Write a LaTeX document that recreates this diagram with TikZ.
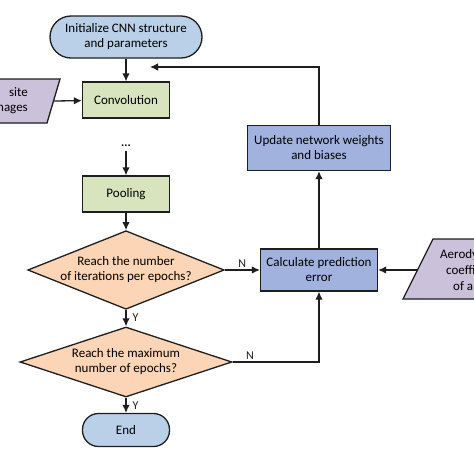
\documentclass[tikz,border=0pt]{standalone}
\usepackage{fontspec}
\setmainfont{Carlito}
\usepackage{tikz}
\usetikzlibrary{arrows.meta,shapes.geometric,calc}
\definecolor{term_blue}{HTML}{B9D0E8}
\definecolor{op_green}{HTML}{D7E4BD}
\definecolor{dec_peach}{HTML}{FBD5B5}
\definecolor{net_blue}{HTML}{A2B2DE}
\definecolor{io_lilac}{HTML}{CCC1DA}
\definecolor{edge_dark}{HTML}{1E1E1E}

\tikzset{
    box/.style={draw=edge_dark,line width=1.3pt,align=center,inner sep=2pt,
        font=\fontsize{13}{15}\selectfont},
    terminal/.style={box,fill=term_blue,rounded corners=#1},
    opbox/.style={box,fill=op_green,minimum width=87pt,minimum height=36pt},
    netbox/.style={box,fill=net_blue},
    decision/.style={box,diamond,fill=dec_peach,aspect=2.5,inner sep=0pt},
    arr/.style={line width=1.3pt,edge_dark,-{Latex[length=8pt,width=7.5pt]}},
    lbl/.style={font=\fontsize{12}{14}\selectfont,inner sep=2pt}
}

\begin{document}
\begin{tikzpicture}[x=1pt,y=-1pt]

    \clip (0,0) rectangle (474,474);
    \fill[white] (0,0) rectangle (474,474);

    % inputs on both sides
    \draw[line width=1.3pt,edge_dark,fill=io_lilac]
        (-20,79) -- (60,79) -- (47,123) -- (-30,123) -- cycle;
    \node[lbl,font=\fontsize{13}{15}\selectfont,anchor=east,align=right]
        (imgtxt) at (30,101) {site\\mages};
    \coordinate (imgs) at (54,101);

    \draw[line width=1.3pt,edge_dark,fill=io_lilac]
        (433,239) -- (490,239) -- (490,299) -- (403,299) -- cycle;
    \node[lbl,font=\fontsize{13}{16}\selectfont,anchor=west,align=left]
        (aerotxt) at (438,270)
        {Aerody\\\hspace*{6pt}coeffi\\\hspace*{13pt}of a};
    \coordinate (aero) at (418,270);

    % main column
    \node[terminal=21pt,minimum width=152pt,minimum height=42pt]
        (init) at (126,37) {Initialize CNN structure\\and parameters};
    \node[opbox] (conv) at (126,100) {Convolution};
    \node[font=\bfseries\fontsize{12}{12}\selectfont,inner sep=1pt]
        (dots) at (126,146) {...};
    \node[opbox] (pool) at (126,194) {Pooling};
    \node[decision,minimum width=192pt,minimum height=76pt]
        (reach1) at (126,270) {Reach the number\\of iterations per epochs?};
    \node[decision,minimum width=212pt,minimum height=70pt]
        (reach2) at (126,362) {Reach the maximum\\number of epochs?};
    \node[terminal=16pt,minimum width=87pt,minimum height=33pt]
        (finish) at (126,430) {End};

    % right column
    \node[netbox,minimum width=143pt,minimum height=45pt]
        (update) at (319,148) {Update network weights\\and biases};
    \node[netbox,minimum width=117pt,minimum height=42pt]
        (calc) at (319,270) {Calculate prediction\\error};
    \coordinate (back) at (150,67);

    % connectors
    \draw[arr] (init) -- (conv);
    \draw[arr] (imgs) -- (conv);
    \draw[arr] (dots.south) ++(0,3) -- (pool.north);
    \draw[arr] (pool) -- (reach1);
    \draw[arr] (reach1) -- node[lbl,right,xshift=4pt] {Y} (reach2);
    \draw[arr] (reach2) -- node[lbl,right,xshift=4pt] {Y} (finish);
    \draw[arr] (reach1.east) -- node[lbl,above] {N} (calc.west);
    \draw[arr] (reach2.east) -| node[lbl,above,pos=0.1] {N} (calc.south);
    \draw[arr] (aero) -- (calc.east);
    \draw[arr] (calc) -- (update);
    \draw[arr] (update.north) |- (back);

\end{tikzpicture}
\end{document}
